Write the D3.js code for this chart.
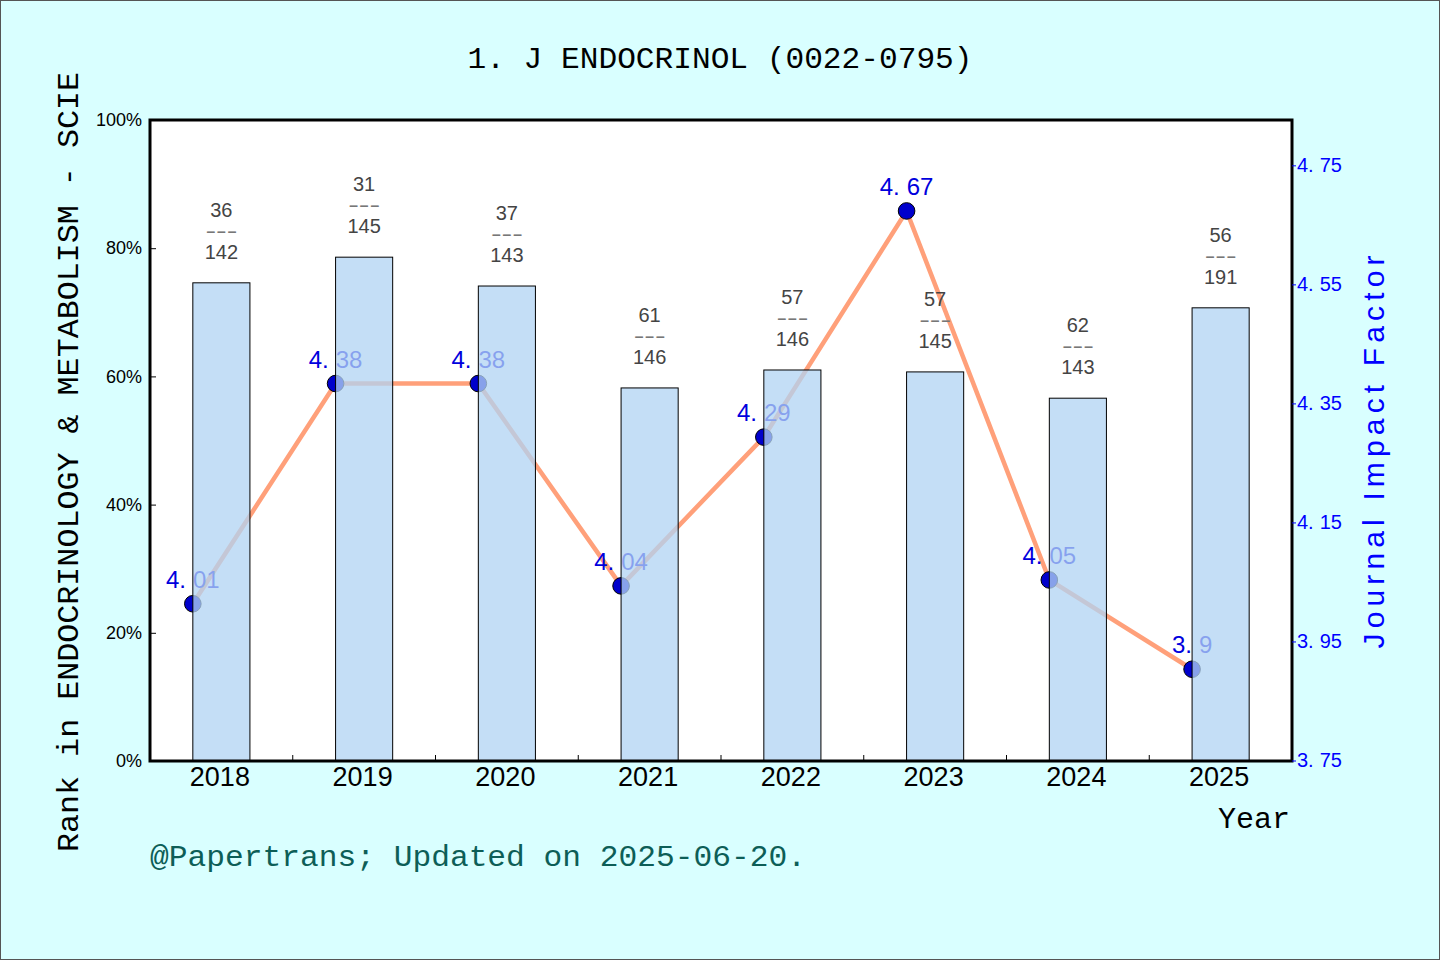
<!DOCTYPE html>
<html><head><meta charset="utf-8">
<script src="https://cdn.jsdelivr.net/npm/d3@7/dist/d3.min.js"></script>
<style>html,body{margin:0;padding:0;background:#d9ffff;}svg{display:block;}</style>
</head><body>
<svg id="chart" width="1440" height="960"></svg>
<script>
const years = ["2018","2019","2020","2021","2022","2023","2024","2025"];
const ranks = [36,31,37,61,57,57,62,56];
const totals = [142,145,143,146,146,145,143,191];
const rankPct = [74.6,78.6,74.1,58.2,61.0,60.7,56.6,70.7];
const impact = [4.01,4.38,4.38,4.04,4.29,4.67,4.05,3.9];
const leftTicks = [0,20,40,60,80,100];
const rightTicks = [3.75,3.95,4.15,4.35,4.55,4.75];
const titleText = "1. J ENDOCRINOL (0022-0795)";
const footerText = "@Papertrans; Updated on 2025-06-20.";
const leftTitle = "Rank in ENDOCRINOLOGY & METABOLISM - SCIE";
const rightTitle = "Journal Impact Factor";
const xTitle = "Year";

const svg = d3.select("#chart");
const L = 150, R = 1292, T = 120, B = 761;
const mono = "'Liberation Mono','DejaVu Sans Mono',monospace";
const sans = "'Liberation Sans',Arial,sans-serif";

svg.append("rect").attr("x",0.5).attr("y",0.5).attr("width",1439).attr("height",959)
  .attr("fill","#d9ffff").attr("stroke","#555").attr("stroke-width",1);
svg.append("rect").attr("x",L).attr("y",T).attr("width",R-L).attr("height",B-T).attr("fill","#fff");

const x = d3.scaleBand().domain(years).range([L,R]).paddingInner(0).paddingOuter(0);
const y = d3.scaleLinear().domain([0,100]).range([B,T]);
const y2 = d3.scaleLinear().domain([3.75,4.827]).range([B-0.5,T-0.5]);
const bw = x.bandwidth()*0.4;
const px = d => x(d) + x.bandwidth()*0.3;

// line + markers + labels (under bars)
const pts = years.map((yr,i)=>({yr, v:impact[i]}));
const lg = svg.append("g").attr("transform","translate(0,-2)");
lg.append("path").datum(pts)
  .attr("d", d3.line().x(d=>px(d.yr)).y(d=>y2(d.v)))
  .attr("fill","none").attr("stroke","#ffa07a").attr("stroke-width",4.5).attr("stroke-linejoin","round");
lg.selectAll(".pt").data(pts).enter().append("circle")
  .attr("cx",d=>px(d.yr)).attr("cy",d=>y2(d.v)).attr("r",8.3)
  .attr("fill","#0000cc").attr("stroke","#000").attr("stroke-width",1);
const pl = lg.selectAll(".pl").data(pts).enter().append("text")
  .attr("x",d=>px(d.yr)).attr("y",d=>y2(d.v)-16)
  .attr("text-anchor","middle").attr("font-family",sans).attr("font-size",24)
  .attr("fill","#0000dd");
pl.each(function(d){
  const s = String(d.v); const k = s.indexOf(".");
  const t = d3.select(this);
  t.append("tspan").text(s.slice(0,k+1));
  t.append("tspan").attr("dx",7).text(s.slice(k+1));
});

// bars
svg.selectAll(".bar").data(years).enter().append("rect")
  .attr("x",d=>px(d)).attr("width",bw)
  .attr("y",(d,i)=>y(rankPct[i])).attr("height",(d,i)=>B-y(rankPct[i]))
  .attr("fill","rgba(178,212,243,0.76)").attr("stroke","#000").attr("stroke-width",1);

// rank labels
years.forEach((yr,i)=>{
  const cx = x(yr)+x.bandwidth()/2, top = y(rankPct[i]);
  const g = svg.append("g").attr("font-family",sans).attr("font-size",20).attr("fill","#444").attr("text-anchor","middle");
  g.append("text").attr("x",cx).attr("y",top-73).attr("dy","0.35em").text(ranks[i]);
  g.append("text").attr("x",cx-16).attr("y",top-52).attr("dy","0.35em").attr("text-anchor","start")
    .attr("fill","#777").attr("textLength",32).attr("lengthAdjust","spacingAndGlyphs").text("---");
  g.append("text").attr("x",cx).attr("y",top-31).attr("dy","0.35em").text(totals[i]);
});

// frame
svg.append("rect").attr("x",L).attr("y",T).attr("width",R-L).attr("height",B-T)
  .attr("fill","none").attr("stroke","#000").attr("stroke-width",3);

// left axis
const la = svg.append("g").attr("transform",`translate(${L},0)`)
  .call(d3.axisRight(y).tickValues(leftTicks).tickSize(6).tickFormat(d=>d+"%"));
la.select(".domain").remove();
la.selectAll("line").attr("stroke","#000");
la.selectAll("text").attr("x",-8).attr("text-anchor","end").attr("font-family",sans).attr("font-size",18).attr("fill","#000");

// right axis
const ra = svg.append("g").attr("transform",`translate(${R},0)`)
  .call(d3.axisRight(y2).tickValues(rightTicks).tickSize(4).tickFormat(d3.format(".2f")));
ra.select(".domain").remove();
ra.selectAll("line").attr("stroke","#0000ff");
ra.selectAll("text").attr("x",5).attr("font-family",sans).attr("font-size",20).attr("fill","#0000ff")
  .each(function(){
    const s = d3.select(this).text(); const k = s.indexOf(".");
    const t = d3.select(this); t.text(null);
    t.append("tspan").text(s.slice(0,k+1));
    t.append("tspan").attr("dx",6).text(s.slice(k+1));
  });

// bottom axis: minor ticks at band boundaries, labels at centres
const bounds = years.slice(1).map(d=>x(d));
svg.selectAll(".bt").data(bounds).enter().append("line")
  .attr("x1",d=>d).attr("x2",d=>d).attr("y1",B).attr("y2",B-6).attr("stroke","#000");
svg.selectAll(".xl").data(years).enter().append("text")
  .attr("x",d=>x(d)+x.bandwidth()/2-1.5).attr("y",777).attr("dy","0.35em")
  .attr("text-anchor","middle").attr("font-family",sans).attr("font-size",27).attr("fill","#000").text(d=>d);

// titles
svg.append("text").attr("x",720).attr("y",57).attr("dy","0.35em").attr("text-anchor","middle")
  .attr("font-family",mono).attr("font-size",30).attr("fill","#000")
  .attr("textLength",505).attr("lengthAdjust","spacingAndGlyphs").text(titleText);
svg.append("text").attr("x",150).attr("y",855).attr("dy","0.35em")
  .attr("font-family",mono).attr("font-size",30).attr("fill","#0d5e57")
  .attr("textLength",656).attr("lengthAdjust","spacingAndGlyphs").text(footerText);
svg.append("text").attr("x",1290).attr("y",817).attr("dy","0.35em").attr("text-anchor","end")
  .attr("font-family",mono).attr("font-size",30).attr("fill","#000").text(xTitle);
svg.append("text").attr("transform","translate(67,462) rotate(-90)").attr("dy","0.35em").attr("text-anchor","middle")
  .attr("font-family",mono).attr("font-size",30).attr("fill","#000")
  .attr("textLength",780).attr("lengthAdjust","spacingAndGlyphs").text(leftTitle);
svg.append("text").attr("transform","translate(1373,452) rotate(-90)").attr("dy","0.35em").attr("text-anchor","middle")
  .attr("font-family",sans).attr("font-size",30).attr("fill","#0000ff")
  .attr("textLength",393).attr("lengthAdjust","spacing").text(rightTitle);
</script>
</body></html>
